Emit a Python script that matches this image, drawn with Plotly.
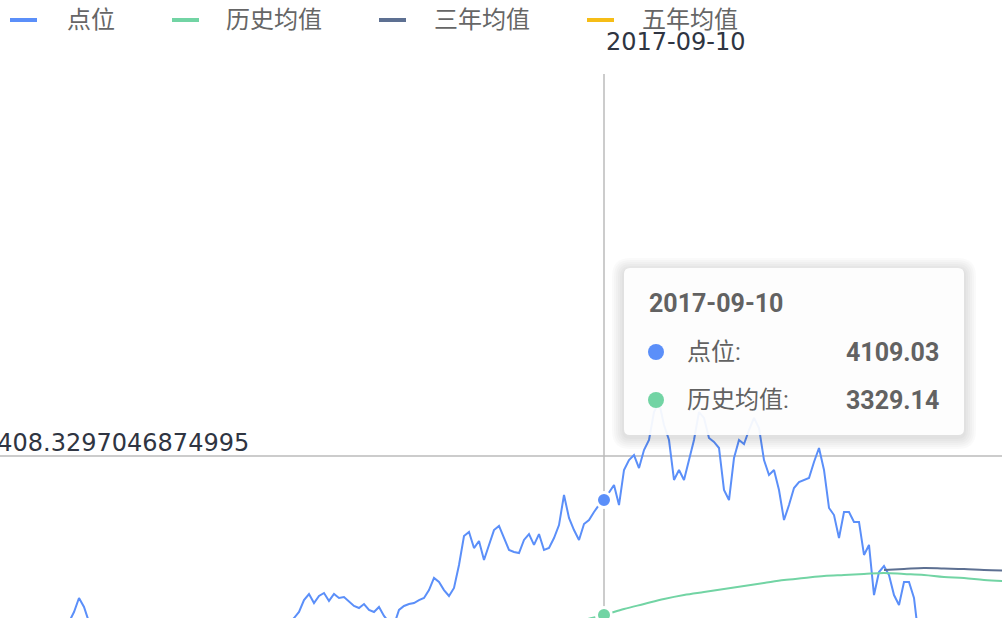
import numpy as np
import pandas as pd
import plotly.graph_objects as go

W, H = 1002, 618

HOVER_DATE = "2017-09-10"
HOVER_POINT = 4109.03
HOVER_HIST = 3329.14
POINTER_Y = 4408.3297046874995

# weekly index level (点位)
point_values = [
    3150, 3120, 3090, 3070, 3100, 3130, 3110, 3080, 3060, 3090,
    3140, 3180, 3210, 3240, 3281, 3349, 3444, 3383, 3281, 3200,
    3150, 3120, 3090, 3060, 3040, 3010, 2990, 3000, 2980, 2950,
    2970, 3000, 3020, 3010, 2990, 3020, 3050, 3070, 3060, 3040,
    3070, 3100, 3120, 3110, 3090, 3130, 3160, 3180, 3170, 3200,
    3190, 3170, 3200, 3230, 3220, 3200, 3210, 3240, 3270, 3308,
    3349, 3430, 3471, 3410, 3458, 3478, 3424, 3471, 3444, 3451,
    3417, 3390, 3376, 3403, 3363, 3349, 3383, 3322, 3281, 3261,
    3363, 3390, 3403, 3410, 3430, 3444, 3498, 3580, 3553, 3498,
    3458, 3512, 3668, 3865, 3892, 3783, 3831, 3702, 3804, 3905,
    3933, 3851, 3770, 3756, 3749, 3838, 3878, 3804, 3878, 3770,
    3783, 3851, 3939, 4143, 3987, 3905, 3838, 3946, 3973, 4028,
    4075, 4109.03, 4163, 4211, 4075, 4313, 4380, 4414, 4326, 4448,
    4516, 4706, 4774, 4618, 4516, 4245, 4313, 4245, 4380, 4516,
    4706, 4666, 4530, 4503, 4462, 4177, 4109, 4394, 4516, 4489,
    4584, 4666, 4598, 4380, 4279, 4313, 4177, 3973, 4075, 4190,
    4231, 4245, 4258, 4367, 4462, 4313, 4055, 4007, 3851, 4028,
    4028, 3960, 3960, 3736, 3804, 3464, 3620, 3661, 3600, 3464,
    3397, 3553, 3553, 3444, 3159,
]

# history mean (历史均值), every 4 weeks
hist_start = "2017-06-18"
hist_values = [
    3213.3, 3254.0, 3294.7, 3329.14, 3369.3, 3403.3, 3437.2, 3464.3,
    3484.7, 3505.0, 3525.4, 3545.8, 3566.1, 3579.7, 3593.3, 3600.1,
    3606.8, 3613.6, 3606.8, 3600.1, 3586.5, 3579.7, 3566.1, 3559.0,
]

# three year mean (三年均值), every 4 weeks
three_start = "2018-10-07"
three_values = [3634.0, 3640.8, 3647.6, 3644.2, 3640.8, 3634.0, 3630.6]

legend_names = ["点位", "历史均值", "三年均值", "五年均值"]
colors = ["#5B8FF9", "#72D4A4", "#5D7092", "#F6BD16"]

FONT = "Roboto, 'Noto Sans CJK SC', sans-serif"
AXIS_FONT = "'DejaVu Sans', sans-serif"


def px(x):
    return x / W


def py(y):
    return 1 - y / H


def rounded_rect(x0, y0, x1, y1, r):
    return (f"M {px(x0 + r)},{py(y0)} L {px(x1 - r)},{py(y0)} "
            f"Q {px(x1)},{py(y0)} {px(x1)},{py(y0 + r)} L {px(x1)},{py(y1 - r)} "
            f"Q {px(x1)},{py(y1)} {px(x1 - r)},{py(y1)} L {px(x0 + r)},{py(y1)} "
            f"Q {px(x0)},{py(y1)} {px(x0)},{py(y1 - r)} L {px(x0)},{py(y0 + r)} "
            f"Q {px(x0)},{py(y0)} {px(x0 + r)},{py(y0)} Z")


idx = point_values.index(HOVER_POINT)
point_dates = pd.Timestamp(HOVER_DATE) + pd.to_timedelta(
    (np.arange(len(point_values)) - idx) * 7, unit="D")
hist_dates = pd.date_range(hist_start, periods=len(hist_values), freq="28D")
three_dates = pd.date_range(three_start, periods=len(three_values), freq="28D")

fig = go.Figure()
fig.add_trace(go.Scatter(x=point_dates, y=point_values, mode="lines",
                         line=dict(color=colors[0], width=2), name=legend_names[0]))
fig.add_trace(go.Scatter(x=hist_dates, y=hist_values, mode="lines",
                         line=dict(color=colors[1], width=2, shape="spline"), name=legend_names[1]))
fig.add_trace(go.Scatter(x=three_dates, y=three_values, mode="lines",
                         line=dict(color=colors[2], width=2, shape="spline"), name=legend_names[2]))

# hovered points
fig.add_trace(go.Scatter(x=[HOVER_DATE], y=[HOVER_POINT], mode="markers",
                         marker=dict(size=15, color=colors[0], line=dict(color="white", width=3))))
fig.add_trace(go.Scatter(x=[HOVER_DATE], y=[HOVER_HIST], mode="markers",
                         marker=dict(size=15, color=colors[1], line=dict(color="white", width=3))))

shapes = []
# crosshair
shapes.append(dict(type="line", xref="x", yref="y", x0=HOVER_DATE, x1=HOVER_DATE,
                   y0=7000, y1=3000, line=dict(color="#bbbbbb", width=1.5), layer="below"))
shapes.append(dict(type="line", xref="paper", yref="y", x0=0, x1=1,
                   y0=POINTER_Y, y1=POINTER_Y, line=dict(color="#bbbbbb", width=1.5), layer="below"))

# legend symbols
for x0, c in zip([10, 172, 379, 587], colors):
    shapes.append(dict(type="line", xref="paper", yref="paper", x0=px(x0), x1=px(x0 + 27),
                       y0=py(20), y1=py(20), line=dict(color=c, width=4)))

# tooltip box with soft shadow
for i in range(6, 0, -1):
    shapes.append(dict(type="path", xref="paper", yref="paper",
                       path=rounded_rect(624 - 2 * i, 268 - 2 * i + 2, 964 + 2 * i, 435 + 2 * i + 2, 6 + 2 * i),
                       fillcolor="rgba(0,0,0,0.018)", line=dict(width=0)))
shapes.append(dict(type="path", xref="paper", yref="paper",
                   path=rounded_rect(624, 268, 964, 435, 6),
                   fillcolor="rgba(255,255,255,0.93)", line=dict(width=0)))
for cy, c in zip([352, 400], colors[:2]):
    shapes.append(dict(type="circle", xref="paper", yref="paper",
                       x0=px(648), x1=px(664), y0=py(cy - 8), y1=py(cy + 8),
                       fillcolor=c, line=dict(width=0)))

annotations = []
for x0, name in zip([65, 224, 432, 640], legend_names):
    annotations.append(dict(x=px(x0), y=py(20), xref="paper", yref="paper", text=name,
                            showarrow=False, xanchor="left", yanchor="middle",
                            font=dict(size=24, color="#666666", family=FONT)))

# axis pointer labels
annotations.append(dict(x=px(604), y=py(42), xref="paper", yref="paper", text=HOVER_DATE,
                        showarrow=False, xanchor="left", yanchor="middle",
                        font=dict(size=24, color="#2f3542", family=AXIS_FONT)))
annotations.append(dict(x=px(251), y=py(443), xref="paper", yref="paper", text=str(POINTER_Y),
                        showarrow=False, xanchor="right", yanchor="middle",
                        font=dict(size=24, color="#2f3542", family=AXIS_FONT)))

# tooltip texts
annotations.append(dict(x=px(647), y=py(303), xref="paper", yref="paper", text=f"<b>{HOVER_DATE}</b>",
                        showarrow=False, xanchor="left", yanchor="middle",
                        font=dict(size=25, color="#626262", family=FONT)))
for cy, name, val in zip([352, 400], legend_names[:2], [HOVER_POINT, HOVER_HIST]):
    annotations.append(dict(x=px(685), y=py(cy), xref="paper", yref="paper", text=name + ":",
                            showarrow=False, xanchor="left", yanchor="middle",
                            font=dict(size=24, color="#626262", family=FONT)))
    annotations.append(dict(x=px(941), y=py(cy), xref="paper", yref="paper", text=f"<b>{val:.2f}</b>",
                            showarrow=False, xanchor="right", yanchor="middle",
                            font=dict(size=25, color="#626262", family=FONT)))

fig.update_layout(
    width=W,
    height=H,
    autosize=False,
    margin=dict(l=0, r=0, t=0, b=0),
    paper_bgcolor="white",
    plot_bgcolor="white",
    showlegend=False,
    xaxis=dict(visible=False, range=["2015-05-18 09:36", "2019-03-21 04:48"]),
    yaxis=dict(visible=False, range=[3308.3, 7502.0]),
    shapes=shapes,
    annotations=annotations,
)

# page body margin off so the figure sits at the window corner
fig.write_html("out.html", config={"displayModeBar": False},
               post_script="document.body.style.margin='0';")
